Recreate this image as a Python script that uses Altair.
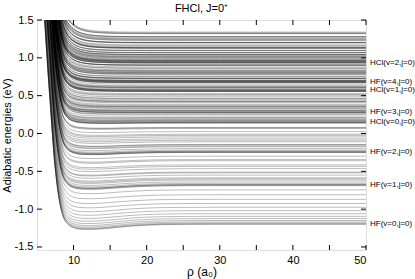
import altair as alt
import pandas as pd
import numpy as np

# ---- data ----
chart_title = "FHCl, J=0⁺"
# channel thresholds (eV) and labels
hf_thresholds = [-1.20, -0.69, -0.25, 0.28, 0.68]          # HF v=0..4, j=0
hcl_thresholds = [0.14, 0.56, 0.93]                        # HCl v=0..2, j=0
label_text = ["HCl(v=2,j=0)", "HF(v=4,j=0)", "HCl(v=1,j=0)", "HF(v=3,j=0)",
              "HCl(v=0,j=0)", "HF(v=2,j=0)", "HF(v=1,j=0)", "HF(v=0,j=0)"]
label_e = [0.93, 0.68, 0.57, 0.29, 0.15, -0.25, -0.68, -1.19]

# rotational ladders above each threshold (eV), j = 0, 1, 2, ...
hf_rot = [0.0, 0.005, 0.015, 0.03, 0.05, 0.075, 0.105, 0.14, 0.18, 0.225, 0.275,
          0.33, 0.39, 0.455, 0.525, 0.60, 0.68, 0.765, 0.855, 0.95, 1.05, 1.155,
          1.265, 1.38, 1.50, 1.625, 1.755, 1.89, 2.03, 2.175, 2.325, 2.48]
hcl_rot = [0.0, 0.0025, 0.0076, 0.0152, 0.0254, 0.0381, 0.0533, 0.0711, 0.0914,
           0.1143, 0.1397, 0.1676, 0.1981, 0.2311, 0.2667, 0.3048, 0.3454, 0.3886,
           0.4343, 0.4826, 0.5334, 0.5867, 0.6426, 0.7010, 0.762, 0.8255, 0.8915,
           0.9601, 1.0312, 1.1049]
e_max = 1.34

# hyperradius grid and curve profiles
rho_grid = [5.6, 5.8, 6.0, 6.2, 6.4, 6.6, 6.8, 7.0, 7.2, 7.4, 7.6, 7.8, 8.0, 8.3,
            8.6, 9.0, 9.5, 10.0, 10.5, 11.0, 12.0, 13.0, 14.0, 15.0, 16.0, 18.0,
            20.0, 22.0, 25.0, 30.0, 50.0]
wall = [3.4, 3.05, 2.75, 2.45, 2.15, 1.87, 1.6, 1.33, 1.06, 0.82, 0.63, 0.47, 0.34,
        0.19, 0.1, 0.045, 0.015, 0.005, 0, 0, 0, 0, 0, 0, 0, 0, 0, 0, 0, 0, 0]
well = [0, 0, 0, 0, 0, 0, 0, 0, 0, 0, 0, 0, 0, 0, 0.1, 0.3, 0.55, 0.75, 0.88,
        0.96, 1.0, 0.97, 0.88, 0.75, 0.6, 0.35, 0.18, 0.08, 0.02, 0, 0]
tail = [1, 1, 1, 1, 1, 1, 1, 1, 1, 1, 1, 0.98, 0.95, 0.85, 0.75, 0.6, 0.45,
        0.33, 0.24, 0.17, 0.09, 0.05, 0.03, 0.015, 0.008, 0.003, 0, 0, 0, 0, 0]
depth_e = [-1.25, -0.7, -0.2, 0.3, 1.4]
well_depth = [0.07, 0.05, 0.03, 0.0, 0.0]
tail_e = [-1.25, -0.5, 0.0, 0.5, 1.0, 1.4]
tail_height = [0.0, 0.02, 0.06, 0.12, 0.22, 0.33]

x_major = [10, 20, 30, 40, 50]
x_minor = [15, 25, 35, 45]
y_ticks = [-1.5, -1.0, -0.5, 0.0, 0.5, 1.0, 1.5]

# ---- build table ----
levels = []
for t in hf_thresholds:
    levels += [t + r for r in hf_rot if t + r <= e_max]
for t in hcl_thresholds:
    levels += [t + r for r in hcl_rot if t + r <= e_max]
levels.sort()

rows = []
for i, a in enumerate(levels):
    dw = float(np.interp(a, depth_e, well_depth))
    dt = float(np.interp(a, tail_e, tail_height))
    for r, w, wl, tl in zip(rho_grid, wall, well, tail):
        rows.append({"curve": i, "rho": r, "E": a + w - dw * wl + dt * tl})
df = pd.DataFrame(rows)

W, H = 329, 230
xs = alt.Scale(domain=[5, 50], nice=False, zero=False)
ys = alt.Scale(domain=[-1.54, 1.5], nice=False, zero=False)

lines = alt.Chart(df).mark_line(clip=True, interpolate="monotone", strokeWidth=0.45,
                                color="black", opacity=0.6).encode(
    x=alt.X("rho:Q", scale=xs, axis=alt.Axis(values=x_major, tickSize=0, domain=False,
                                             grid=False, labelPadding=4, labelFontSize=11,
                                             labelOverlap=False,
                                             title="ρ  (a₀)", titleFontSize=12,
                                             titleFontWeight="normal", titlePadding=1)),
    y=alt.Y("E:Q", scale=ys, axis=alt.Axis(values=y_ticks, tickSize=0, domain=False,
                                           grid=False, labelPadding=4, labelFontSize=11,
                                           labelOverlap=False,
                                           labelExpr="datum.value < 0 ? '-' + format(-datum.value, '.1f') : format(datum.value, '.1f')",
                                           title="Adiabatic energies (eV)", titleFontSize=11,
                                           titleFontWeight="normal", titleX=-25, titleY=H / 2)),
    detail="curve:N",
)

xt = pd.DataFrame({"rho": x_major + x_minor})
yt = pd.DataFrame({"E": y_ticks})
tick_bottom = alt.Chart(xt).mark_rule(color="black", strokeWidth=1).encode(
    x=alt.X("rho:Q", scale=xs, axis=None), y=alt.value(H), y2=alt.value(H - 5))
tick_top = alt.Chart(xt).mark_rule(color="black", strokeWidth=1).encode(
    x=alt.X("rho:Q", scale=xs, axis=None), y=alt.value(0), y2=alt.value(5))
tick_left = alt.Chart(yt).mark_rule(color="black", strokeWidth=1).encode(
    y=alt.Y("E:Q", scale=ys, axis=None), x=alt.value(0), x2=alt.value(5))
tick_right = alt.Chart(yt).mark_rule(color="black", strokeWidth=1).encode(
    y=alt.Y("E:Q", scale=ys, axis=None), x=alt.value(W), x2=alt.value(W - 5))

labs = alt.Chart(pd.DataFrame({"label": label_text, "E": label_e})).mark_text(
    align="left", baseline="middle", fontSize=8, dx=4, color="black").encode(
    x=alt.value(W), y=alt.Y("E:Q", scale=ys, axis=None), text="label:N")

title_mark = alt.Chart(pd.DataFrame({"label": [chart_title]})).mark_text(
    align="center", baseline="alphabetic", fontSize=11, color="black").encode(
    x=alt.value(W / 2), y=alt.value(-8), text="label:N")

chart = alt.layer(lines, tick_bottom, tick_top, tick_left, tick_right, labs,
                  title_mark).resolve_axis(x="independent", y="independent").properties(
    width=W, height=H,
    autosize=alt.AutoSizeParams(type="none"),
    padding={"left": 37, "top": 20, "right": 49, "bottom": 29},
).configure_view(stroke="#333", strokeWidth=1).configure(
    font="Liberation Sans").configure_axis(labelColor="black", titleColor="black",
                                           labelOverlap=False)

chart.save("out.html", embed_options={"renderer": "svg", "actions": False})
